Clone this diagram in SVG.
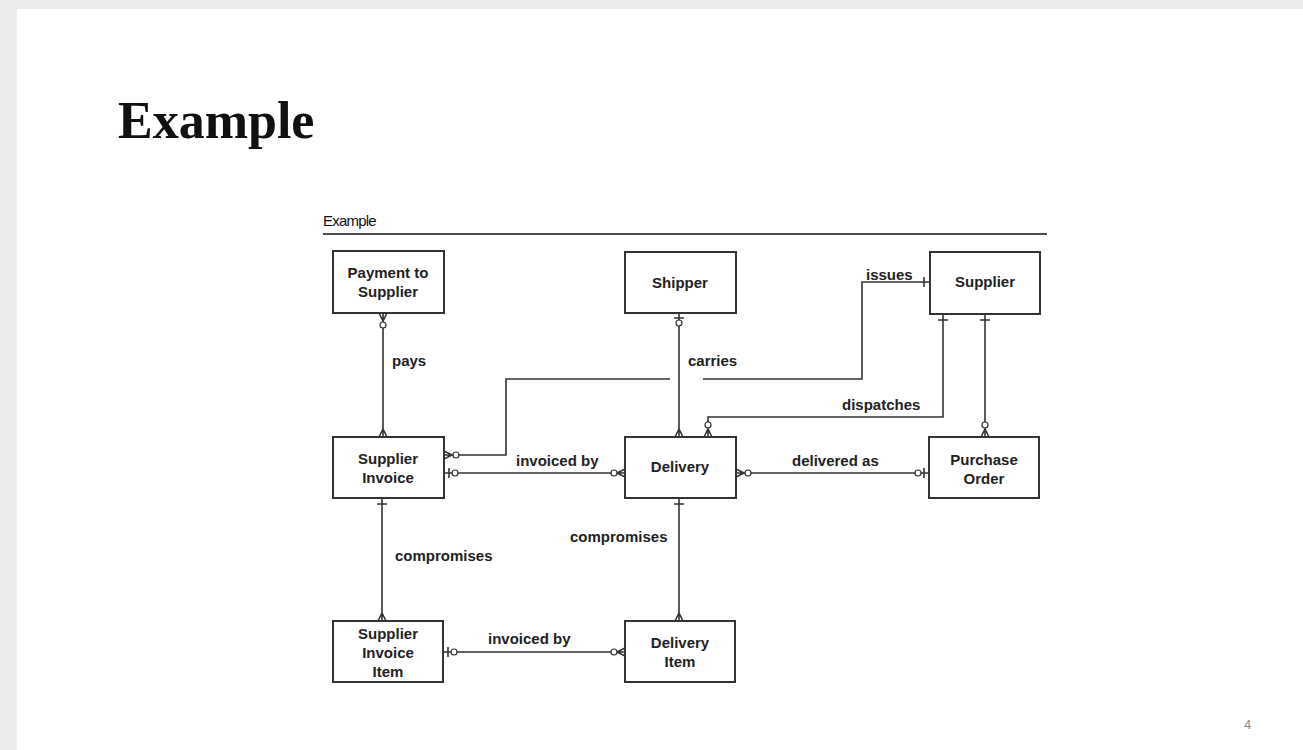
<svg xmlns="http://www.w3.org/2000/svg" width="1303" height="750" viewBox="0 0 1303 750">
<style>
.box{fill:#fff;stroke:#333;stroke-width:2}
.t{font-family:"Liberation Sans",Arial,sans-serif;font-weight:bold;font-size:15px;fill:#222;text-anchor:middle}
.l{font-family:"Liberation Sans",Arial,sans-serif;font-weight:bold;font-size:15px;fill:#222}
.c{fill:none;stroke:#333;stroke-width:1.6}
.o{fill:#fff;stroke:#333;stroke-width:1.2}
</style>
<rect width="1303" height="750" fill="#ececec"/>
<rect x="17" y="9" width="1286" height="741" fill="#fff"/>
<text x="118" y="138" font-family="Liberation Serif,serif" font-weight="bold" font-size="52" fill="#111">Example</text>
<text x="323" y="226" font-family="Liberation Sans,Arial,sans-serif" font-size="15" fill="#111" letter-spacing="-0.8">Example</text>
<line x1="323" y1="234" x2="1047" y2="234" stroke="#111" stroke-width="1.6"/>
<text x="1244" y="729" font-family="Liberation Sans,Arial,sans-serif" font-size="13" fill="#888">4</text>
<g id="connectors">
<!-- pays -->
<path class="c" d="M383 313V437 M379 313L383 321L387 313 M379 437L383 429L387 437"/><circle class="o" cx="383" cy="325" r="3"/>
<!-- carries -->
<path class="c" d="M679 313V437 M674 318H684 M675 437L679 429L683 437"/><circle class="o" cx="679" cy="323" r="3"/>
<!-- issues -->
<path class="c" d="M930 282H862V379H703 M670 379H506V455H444 M924 277V287 M444 451L452 455L444 459"/><circle class="o" cx="456" cy="455" r="3"/>
<!-- dispatches -->
<path class="c" d="M943 314V417H708V437 M938 320H948 M704 437L708 429L712 437"/><circle class="o" cx="708" cy="425" r="3"/>
<!-- supplier - PO -->
<path class="c" d="M985 314V437 M980 320H990 M981 437L985 429L989 437"/><circle class="o" cx="985" cy="425" r="3"/>
<!-- invoiced by -->
<path class="c" d="M444 473H625 M449 468V478 M625 469L617 473L625 477"/><circle class="o" cx="455" cy="473" r="3"/><circle class="o" cx="614" cy="473" r="3"/>
<!-- delivered as -->
<path class="c" d="M736 473H929 M736 469L744 473L736 477 M924 468V478"/><circle class="o" cx="748" cy="473" r="3"/><circle class="o" cx="918" cy="473" r="3"/>
<!-- compromises left -->
<path class="c" d="M382 498V621 M377 504H387 M378 621L382 613L386 621"/>
<!-- compromises right -->
<path class="c" d="M679 498V621 M674 504H684 M675 621L679 613L683 621"/>
<!-- invoiced by bottom -->
<path class="c" d="M443 652H625 M448 647V657 M625 648L617 652L625 656"/><circle class="o" cx="454" cy="652" r="3"/><circle class="o" cx="614" cy="652" r="3"/>
</g>
<text class="l" x="392" y="366">pays</text>
<text class="l" x="688" y="366">carries</text>
<text class="l" x="866" y="280">issues</text>
<text class="l" x="842" y="410">dispatches</text>
<text class="l" x="516" y="466">invoiced by</text>
<text class="l" x="792" y="466">delivered as</text>
<text class="l" x="395" y="561">compromises</text>
<text class="l" x="570" y="542">compromises</text>
<text class="l" x="488" y="644">invoiced by</text>
<g id="payment"><rect class="box" x="333" y="251" width="111" height="62"/><text class="t" x="388" y="278">Payment to</text><text class="t" x="388" y="297">Supplier</text></g>
<g id="shipper"><rect class="box" x="625" y="252" width="111" height="61"/><text class="t" x="680" y="288">Shipper</text></g>
<g id="supplier"><rect class="box" x="930" y="252" width="110" height="62"/><text class="t" x="985" y="287">Supplier</text></g>
<g id="supplierInvoice"><rect class="box" x="333" y="437" width="111" height="61"/><text class="t" x="388" y="464">Supplier</text><text class="t" x="388" y="483">Invoice</text></g>
<g id="delivery"><rect class="box" x="625" y="437" width="111" height="61"/><text class="t" x="680" y="472">Delivery</text></g>
<g id="purchaseOrder"><rect class="box" x="929" y="437" width="110" height="61"/><text class="t" x="984" y="465">Purchase</text><text class="t" x="984" y="484">Order</text></g>
<g id="supplierInvoiceItem"><rect class="box" x="333" y="621" width="110" height="61"/><text class="t" x="388" y="639">Supplier</text><text class="t" x="388" y="658">Invoice</text><text class="t" x="388" y="677">Item</text></g>
<g id="deliveryItem"><rect class="box" x="625" y="621" width="110" height="61"/><text class="t" x="680" y="648">Delivery</text><text class="t" x="680" y="667">Item</text></g>
</svg>
